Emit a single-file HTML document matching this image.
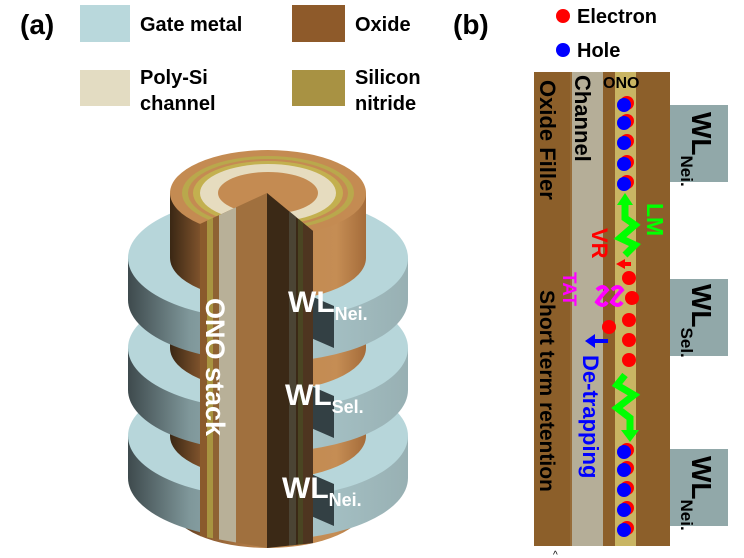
<!DOCTYPE html>
<html><head><meta charset="utf-8"><style>
html,body{margin:0;padding:0;background:#fff;}
svg{display:block;font-family:"Liberation Sans",Arial,sans-serif;font-weight:bold;}
</style></head><body>
<svg width="744" height="558" viewBox="0 0 744 558" xmlns="http://www.w3.org/2000/svg">
<defs>
<linearGradient id="cyl" x1="170" x2="366" y1="0" y2="0" gradientUnits="userSpaceOnUse">
<stop offset="0" stop-color="#3a2714"/><stop offset="0.18" stop-color="#8a5a30"/>
<stop offset="0.5" stop-color="#c08850"/><stop offset="0.85" stop-color="#c58d54"/><stop offset="1" stop-color="#a56c3a"/>
</linearGradient>
<linearGradient id="ring" x1="128" x2="408" y1="0" y2="0" gradientUnits="userSpaceOnUse">
<stop offset="0" stop-color="#3e4a4d"/><stop offset="0.22" stop-color="#7f979a"/>
<stop offset="0.6" stop-color="#a9c6ca"/><stop offset="1" stop-color="#98b0b3"/>
</linearGradient>
<clipPath id="ringclip"><rect x="0" y="0" width="202" height="558"/><rect x="311" y="0" width="433" height="558"/></clipPath>
<clipPath id="lface"><polygon points="200,224 267,193 267,548 200,536"/></clipPath>
<clipPath id="rface"><polygon points="267,193 313,231 313,543 267,548"/></clipPath>
</defs>

<text x="20" y="34" font-size="28" fill="#000">(a)</text>
<rect x="80" y="5" width="50" height="37" fill="#b9d8dc"/>
<text x="140" y="31" font-size="20">Gate metal</text>
<rect x="292" y="5" width="53" height="37" fill="#8e5a2a"/>
<text x="355" y="31" font-size="20">Oxide</text>
<rect x="80" y="70" width="50" height="36" fill="#e3dcc2"/>
<text x="140" y="84" font-size="20">Poly-Si</text>
<text x="140" y="110" font-size="20">channel</text>
<rect x="292" y="70" width="53" height="36" fill="#a89243"/>
<text x="355" y="84" font-size="20">Silicon</text>
<text x="355" y="110" font-size="20">nitride</text>

<path d="M170,193 L170,505 A98,43 0 0 0 366,505 L366,193 Z" fill="url(#cyl)"/>

<g clip-path="url(#ringclip)">
<path d="M128,436 L128,478 A140,62 0 0 0 408,478 L408,436 Z" fill="url(#ring)"/>
<ellipse cx="268" cy="436" rx="140" ry="62" fill="#b7d6da"/>
</g>
<polygon points="311,474 334,484 334,526 311,516" fill="#334044"/>
<path d="M170,193 L170,436 A98,43 0 0 0 366,436 L366,193 Z" fill="url(#cyl)"/>
<g clip-path="url(#ringclip)">
<path d="M128,348 L128,390 A140,62 0 0 0 408,390 L408,348 Z" fill="url(#ring)"/>
<ellipse cx="268" cy="348" rx="140" ry="62" fill="#b7d6da"/>
</g>
<polygon points="311,386 334,396 334,438 311,428" fill="#334044"/>
<path d="M170,193 L170,348 A98,43 0 0 0 366,348 L366,193 Z" fill="url(#cyl)"/>
<g clip-path="url(#ringclip)">
<path d="M128,258 L128,300 A140,62 0 0 0 408,300 L408,258 Z" fill="url(#ring)"/>
<ellipse cx="268" cy="258" rx="140" ry="62" fill="#b7d6da"/>
</g>
<polygon points="311,296 334,306 334,348 311,338" fill="#334044"/>
<path d="M170,193 L170,258 A98,43 0 0 0 366,258 L366,193 Z" fill="url(#cyl)"/>

<ellipse cx="268" cy="193" rx="98" ry="43" fill="#c48b52"/>
<ellipse cx="268" cy="193" rx="86" ry="37" fill="#b9a84c"/>
<ellipse cx="268" cy="193" rx="80" ry="34" fill="#c48b52"/>
<ellipse cx="268" cy="193" rx="75" ry="32" fill="#c3b04f"/>
<ellipse cx="268" cy="193" rx="68" ry="29" fill="#e6dcbf"/>
<ellipse cx="268" cy="193" rx="50" ry="21" fill="#c48b52"/>

<g clip-path="url(#lface)">
<rect x="200" y="150" width="67" height="400" fill="#a0703e"/>
<rect x="200" y="150" width="7" height="400" fill="#8a5a2c"/>
<rect x="207" y="150" width="6" height="400" fill="#a89440"/>
<rect x="213" y="150" width="6" height="400" fill="#8e6233"/>
<rect x="219" y="150" width="17" height="400" fill="#b8b098"/>
</g>
<g clip-path="url(#rface)">
<rect x="267" y="150" width="46" height="400" fill="#3b2916"/>
<rect x="289" y="150" width="7" height="400" fill="#4b4434"/>
<rect x="298" y="150" width="5" height="400" fill="#4a4522"/>
<rect x="303" y="150" width="10" height="400" fill="#4e3520"/>
</g>

<text transform="translate(206,298) rotate(90)" font-size="27" fill="#fff">ONO stack</text>
<text x="288" y="312" font-size="30" fill="#fff">WL<tspan font-size="18" dy="8">Nei.</tspan></text>
<text x="285" y="405" font-size="30" fill="#fff">WL<tspan font-size="18" dy="8">Sel.</tspan></text>
<text x="282" y="498" font-size="30" fill="#fff">WL<tspan font-size="18" dy="8">Nei.</tspan></text>

<text x="453" y="34" font-size="28">(b)</text>
<circle cx="563" cy="16" r="7" fill="#f00"/>
<text x="577" y="23" font-size="20">Electron</text>
<circle cx="563" cy="50" r="7" fill="#00f"/>
<text x="577" y="57" font-size="20">Hole</text>

<rect x="534" y="72" width="136" height="474" fill="#8c5f2a"/>
<line x1="571" y1="72" x2="571" y2="546" stroke="#a07848" stroke-width="1"/>
<rect x="572" y="72" width="31" height="474" fill="#b5ae98"/>
<rect x="615" y="72" width="21" height="474" fill="#c9b563"/>

<rect x="670" y="105" width="58" height="77" fill="#91a8a9"/>
<rect x="670" y="279" width="58" height="77" fill="#91a8a9"/>
<rect x="670" y="449" width="58" height="77" fill="#91a8a9"/>
<text transform="translate(692,112) rotate(90)" font-size="28">WL<tspan font-size="17" dy="11">Nei.</tspan></text>
<text transform="translate(692,284) rotate(90)" font-size="28">WL<tspan font-size="17" dy="11">Sel.</tspan></text>
<text transform="translate(692,456) rotate(90)" font-size="28">WL<tspan font-size="17" dy="11">Nei.</tspan></text>

<text transform="translate(540,80) rotate(90)" font-size="22">Oxide Filler</text>
<text transform="translate(540,290) rotate(90)" font-size="21">Short term retention</text>
<text transform="translate(575,75) rotate(90)" font-size="22">Channel</text>
<text x="603" y="88" font-size="16">ONO</text>

<g fill="#00f">
<circle cx="627" cy="103" r="7" fill="#f00"/><circle cx="624" cy="105" r="7"/>
<circle cx="627" cy="121" r="7" fill="#f00"/><circle cx="624" cy="123" r="7"/>
<circle cx="627" cy="141" r="7" fill="#f00"/><circle cx="624" cy="143" r="7"/>
<circle cx="627" cy="162" r="7" fill="#f00"/><circle cx="624" cy="164" r="7"/>
<circle cx="627" cy="182" r="7" fill="#f00"/><circle cx="624" cy="184" r="7"/>
<circle cx="627" cy="450" r="7" fill="#f00"/><circle cx="624" cy="452" r="7"/>
<circle cx="627" cy="468" r="7" fill="#f00"/><circle cx="624" cy="470" r="7"/>
<circle cx="627" cy="488" r="7" fill="#f00"/><circle cx="624" cy="490" r="7"/>
<circle cx="627" cy="508" r="7" fill="#f00"/><circle cx="624" cy="510" r="7"/>
<circle cx="627" cy="528" r="7" fill="#f00"/><circle cx="624" cy="530" r="7"/>
</g>
<g fill="#f00">
<circle cx="629" cy="278" r="7"/><circle cx="632" cy="298" r="7"/>
<circle cx="629" cy="320" r="7"/><circle cx="629" cy="340" r="7"/>
<circle cx="629" cy="360" r="7"/><circle cx="609" cy="327" r="7"/>
</g>

<polyline points="625,200 625,218 635,225 620,238 635,245 625,255" fill="none" stroke="#0f0" stroke-width="7" stroke-linejoin="miter"/>
<polygon points="617,205 625,193 633,205" fill="#0f0"/>
<polyline points="625,375 617,385 634,395 617,408 630,418 630,432" fill="none" stroke="#0f0" stroke-width="7"/>
<polygon points="621,430 630,442 639,430" fill="#0f0"/>
<text transform="translate(647,203) rotate(90)" font-size="23" fill="#0f0">LM</text>

<text transform="translate(592,228) rotate(90)" font-size="22" fill="#f00">VR</text>
<polygon points="616,264 625,259 625,269" fill="#f00"/>
<rect x="624" y="262" width="7" height="4" fill="#f00"/>

<text transform="translate(563,272) rotate(90)" font-size="19" fill="#f0f">TAT</text>
<path d="M597,290 q6,-6 10,0 q-6,6 -10,12 q6,6 10,0" fill="none" stroke="#f0f" stroke-width="4"/>
<path d="M612,290 q6,-6 10,0 q-6,6 -10,12 q6,6 10,0" fill="none" stroke="#f0f" stroke-width="4"/>

<polygon points="585,341 595,334 595,348" fill="#00f"/>
<rect x="594" y="339" width="14" height="4" fill="#00f"/>
<text transform="translate(583,355) rotate(90)" font-size="22" fill="#00f">De-trapping</text>

<text x="553" y="558" font-size="10" font-weight="normal">^</text>
</svg>
</body></html>
